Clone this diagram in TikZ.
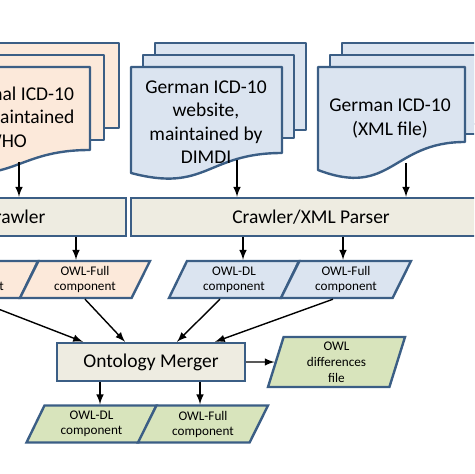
\documentclass[tikz,border=0pt]{standalone}
\usepackage{fontspec}
\setmainfont{Carlito}
\usetikzlibrary{shapes,
                arrows,
                positioning}
\definecolor{edge}{HTML}{3B5E85}
\definecolor{peach}{HTML}{FCE9DA}
\definecolor{paleblue}{HTML}{DBE4F0}
\definecolor{palegreen}{HTML}{D8E4BC}
\definecolor{beige}{HTML}{EEECE1}
\tikzset{sheet/.style =
   {draw=edge,
    line width=1.2pt,
    line join=round}}
\tikzset{sheet-text/.style =
   {align=center,
    inner sep=0pt,
    font=\fontsize{9.75}{11.7}\selectfont}}
\tikzset{process/.style =
   {rectangle,
    draw=edge,
    line width=1.2pt,
    fill=beige,
    text centered,
    minimum height=19pt,
    font=\fontsize{9.75}{11.7}\selectfont}}
\tikzset{data/.style =
   {trapezium,
    trapezium left angle=55,
    trapezium right angle=125,
    trapezium stretches body,
    draw=edge,
    line width=1.2pt,
    align=center,
    inner sep=0pt,
    minimum width=65pt,
    minimum height=18.5pt,
    font=\fontsize{6.6}{7.5}\selectfont}}
\tikzset{arrow/.style = {draw, -latex, line width=0.7pt}}
% one sheet with a wavy lower edge: fill, left, top, right, right bottom, left bottom
\newcommand{\docsheet}[6]{%
  \filldraw [sheet, fill=#1] (#2,#3) -- (#4,#3) -- (#4,#5)
    .. controls ({(#2+#4)/2},#5) and ({(#2+#4)/2},{2*#6-#5}) .. (#2,#6) -- cycle;}

\begin{document}
\begin{tikzpicture}[x=0.5pt, y=-0.5pt]

    \useasboundingbox (0,0) rectangle (474,474);
    \clip (0,0) rectangle (474,474);

    % source documents
    \filldraw [sheet, fill=peach] (-32,43) rectangle (119,128);
    \filldraw [sheet, fill=peach] (-47,55) rectangle (104,140);
    \docsheet{peach}{-61}{67}{90}{150}{168}
    \node [sheet-text] (who) at (-6,118.5)
          {International ICD-10\\website, maintained\\by WHO};
    \coordinate (who-out) at (19,162);

    \filldraw [sheet, fill=paleblue] (155,43) rectangle (306,130);
    \filldraw [sheet, fill=paleblue] (143,55) rectangle (294,138);
    \docsheet{paleblue}{131}{67}{282}{153}{173}
    \node [sheet-text] (dimdi) at (206,122)
          {German ICD-10\\website,\\maintained by\\DIMDI};
    \coordinate (dimdi-out) at (237,160);

    \filldraw [sheet, fill=paleblue] (342,43) rectangle (487,124);
    \filldraw [sheet, fill=paleblue] (330,55) rectangle (477,134);
    \docsheet{paleblue}{318}{67}{465}{142}{170}
    \node [sheet-text] (xml) at (390,118.5)
          {German ICD-10\\(XML file)};
    \coordinate (xml-out) at (406,163);

    % crawlers
    \node [process, minimum width=111pt] (crawler) at (15,217) {Crawler};
    \node [process, minimum width=180pt] (parser) at (311,217)
          {Crawler/XML Parser};

    \draw [arrow] (who-out) -- (who-out |- crawler.north);
    \draw [arrow] (dimdi-out) -- (dimdi-out |- parser.north);
    \draw [arrow] (xml-out) -- (xml-out |- parser.north);

    % extracted components
    \node [data, fill=peach] (peach-dl) at (-27,279.5) {OWL-DL\\component};
    \node [data, fill=peach] (peach-full) at (85,279.5) {OWL-Full\\component};
    \node [data, fill=paleblue] (blue-dl) at (234,279.5) {OWL-DL\\component};
    \node [data, fill=paleblue] (blue-full) at (346,279.5) {OWL-Full\\component};

    \draw [arrow] (crawler.south -| 76,0) -- (peach-full.north -| 76,0);
    \draw [arrow] (parser.south -| 243,0) -- (blue-dl.north -| 243,0);
    \draw [arrow] (parser.south -| 343,0) -- (blue-full.north -| 343,0);

    % merging
    \node [process, minimum width=94pt] (merger) at (151,362) {Ontology Merger};

    \draw [arrow] (peach-dl.south) -- (merger.north -| 83,0);
    \draw [arrow] (peach-full.south) -- (merger.north -| 125,0);
    \draw [arrow] (blue-dl.south -| 220,0) -- (merger.north -| 177,0);
    \draw [arrow] (blue-full.south -| 333,0) -- (merger.north -| 215,0);

    \node [data,
           fill=palegreen,
           trapezium left angle=69,
           trapezium right angle=111,
           minimum width=68.5pt,
           minimum height=25pt,
           font=\fontsize{6.6}{8}\selectfont] (diff) at (336.5,362)
          {OWL\\differences\\file};
    \draw [arrow] (merger) -- (diff);

    \node [data, fill=palegreen] (green-dl) at (91.5,424) {OWL-DL\\component};
    \node [data, fill=palegreen] (green-full) at (203,424) {OWL-Full\\component};

    \draw [arrow] (merger.south -| 100,0) -- (green-dl.north -| 100,0);
    \draw [arrow] (merger.south -| 200,0) -- (green-full.north -| 200,0);

\end{tikzpicture}
\end{document}
